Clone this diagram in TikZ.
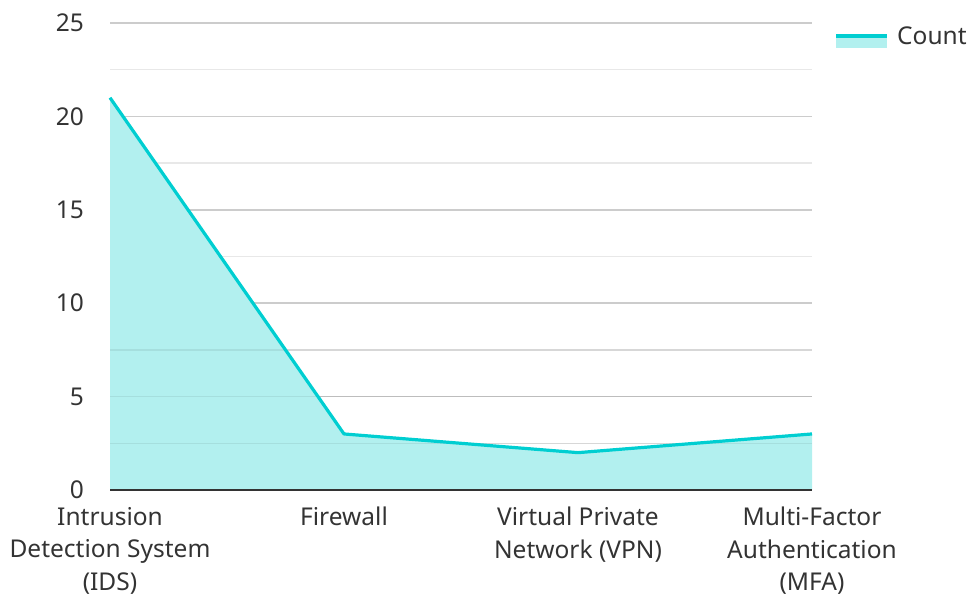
\documentclass[tikz,border=0pt]{standalone}
\usepackage{fontspec}
\setmainfont{Noto Sans}
\definecolor{txt}{HTML}{333333}
\definecolor{turq}{RGB}{0,206,209}
\definecolor{turqfill}{RGB}{178,240,239}
\definecolor{gridmaj}{HTML}{CCCCCC}
\definecolor{gridmin}{HTML}{E8E8E8}
\tikzset{
  ylab/.style={anchor=east, text=txt, font=\fontsize{24.5}{29}\selectfont, inner sep=0pt},
  xlab/.style={anchor=north, text=txt, font=\fontsize{24.5}{32.5}\selectfont, align=center, inner sep=0pt},
  majgrid/.style={draw=gridmaj, line width=1.5pt},
  mingrid/.style={draw=gridmin, line width=1.5pt},
  series/.style={draw=turq, line width=3.2pt, line join=round},
}
\begin{document}
\begin{tikzpicture}[x=1pt,y=-1pt]
\useasboundingbox (0,0) rectangle (970,597);
% minor grid
\foreach \v in {2.5,7.5,12.5,17.5,22.5}
  \draw[mingrid] (110,{490-\v*18.68}) -- (812,{490-\v*18.68});
% major grid
\foreach \v in {5,10,15,20,25}
  \draw[majgrid] (110,{490-\v*18.68}) -- (812,{490-\v*18.68});
% data points
\coordinate (p1) at (110,{490-21*18.68});
\coordinate (p2) at (344,{490-3*18.68});
\coordinate (p3) at (578,{490-2*18.68});
\coordinate (p4) at (812,{490-3*18.68});
\coordinate (b1) at (110,490);
\coordinate (b4) at (812,490);
\fill[turqfill] (b1) -- (p1) -- (p2) -- (p3) -- (p4) -- (b4) -- cycle;
% grid showing faintly through fill
\foreach \v in {2.5,5,7.5}
  \draw[draw=black, opacity=0.07, line width=1.5pt] (110,{490-\v*18.68}) -- (812,{490-\v*18.68});
\draw[series] (p1) -- (p2) -- (p3) -- (p4);
% axis
\draw[draw=txt, line width=2pt] (b1) -- (b4);
% y labels
\foreach \v in {0,5,10,15,20,25}
  \node[ylab] at (84,{490-\v*18.68}) {\v};
% x labels
\node[xlab] (l1) at (110,507) {Intrusion\\Detection System\\(IDS)};
\node[xlab] (l2) at (344,507) {Firewall};
\node[xlab] (l3) at (578,507) {Virtual Private\\Network (VPN)};
\node[xlab] (l4) at (812,507) {Multi-Factor\\Authentication\\(MFA)};
% legend
\fill[turqfill] (836,36) rectangle (887,48);
\draw[series] (836,36) -- (887,36);
\node[anchor=west, text=txt, font=\fontsize{24.5}{29}\selectfont, inner sep=0pt] (leg) at (897,36) {Count};
\end{tikzpicture}
\end{document}
